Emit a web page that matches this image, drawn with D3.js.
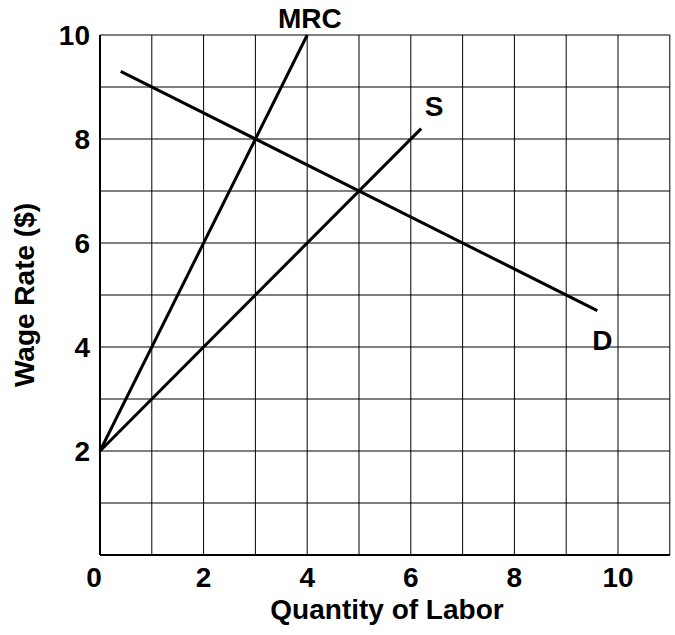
<!DOCTYPE html>
<html><head><meta charset="utf-8">
<script src="https://cdn.jsdelivr.net/npm/d3@7"></script>
<style>body{margin:0;background:#fff}</style>
</head><body>
<div id="chart"></div>
<script>
// data
var xTicks = [0, 2, 4, 6, 8, 10];
var yTicks = [2, 4, 6, 8, 10];
var mrc = [[0, 2], [4, 10]];
var supply = [[0, 2], [6.2, 8.2]];
var demand = [[0.4, 9.3], [9.6, 4.7]];

var svgWidth = 675, svgHeight = 635;
var margin = {top: 35, left: 100, right: 5, bottom: 80};

var svg = d3.select("#chart").append("svg")
  .attr("width", svgWidth).attr("height", svgHeight);

var x = d3.scaleLinear().domain([0, 11]).range([margin.left, margin.left + 11 * 51.8]);
var y = d3.scaleLinear().domain([0, 10]).range([555, 35]);

// grid
var g = svg.append("g").attr("stroke", "#000").attr("stroke-width", 1);
d3.range(0, 12).forEach(function(i) {
  g.append("line").attr("x1", x(i)).attr("x2", x(i)).attr("y1", y(0)).attr("y2", y(10));
});
d3.range(0, 11).forEach(function(i) {
  g.append("line").attr("x1", x(0)).attr("x2", x(11)).attr("y1", y(i)).attr("y2", y(i));
});
g.append("line").attr("x1", x(0)).attr("x2", x(0)).attr("y1", y(0)).attr("y2", y(10)).attr("stroke-width", 2);
g.append("line").attr("x1", x(0)).attr("x2", x(11)).attr("y1", y(0)).attr("y2", y(0)).attr("stroke-width", 2);

var font = "Liberation Sans, Arial, sans-serif";
svg.selectAll(".xt").data(xTicks).enter().append("text")
  .attr("x", d => d === 0 ? x(d) - 6 : x(d)).attr("y", 587)
  .attr("text-anchor", "middle").attr("font-family", font).attr("font-weight", "bold").attr("font-size", 28)
  .text(d => d);
svg.selectAll(".yt").data(yTicks).enter().append("text")
  .attr("x", 90).attr("y", d => y(d) + 10)
  .attr("text-anchor", "end").attr("font-family", font).attr("font-weight", "bold").attr("font-size", 28)
  .text(d => d);

svg.append("text").attr("x", 387).attr("y", 619).attr("text-anchor", "middle")
  .attr("font-family", font).attr("font-weight", "bold").attr("font-size", 28).text("Quantity of Labor");
svg.append("text").attr("transform", "translate(34,295) rotate(-90)").attr("text-anchor", "middle")
  .attr("font-family", font).attr("font-weight", "bold").attr("font-size", 28).text("Wage Rate ($)");

var line = d3.line().x(d => x(d[0])).y(d => y(d[1]));
[mrc, supply, demand].forEach(function(s) {
  svg.append("path").datum(s).attr("d", line).attr("fill", "none").attr("stroke", "#000").attr("stroke-width", 3);
});

function label(t, px, py) {
  svg.append("text").attr("x", x(px)).attr("y", y(py)).attr("text-anchor", "middle")
    .attr("font-family", font).attr("font-weight", "bold").attr("font-size", 28).text(t);
}
label("MRC", 4.05, 10.13);
label("S", 6.45, 8.45);
label("D", 9.7, 3.95);
</script>
</body></html>
